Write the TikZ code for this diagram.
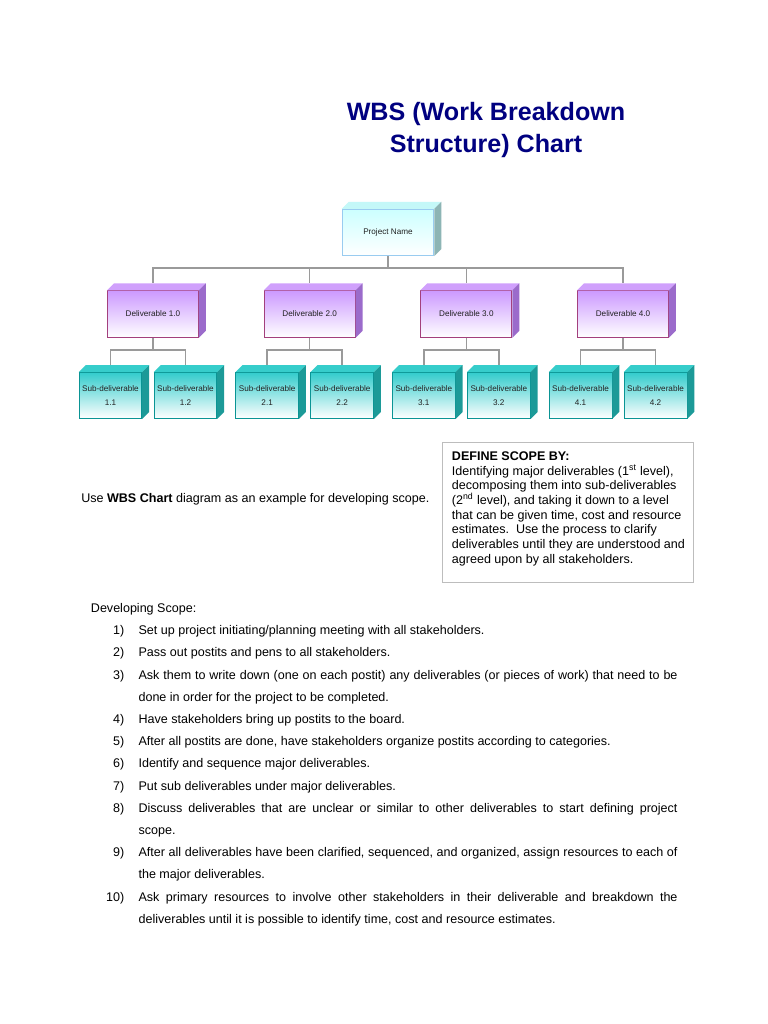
\documentclass[tikz,border=0pt]{standalone}
\usepackage{fontspec}
\setmainfont{Liberation Sans}

\newlength{\px}
\setlength{\px}{0.796875pt}

\definecolor{titleblue}{HTML}{000080}
\definecolor{boxtext}{HTML}{222222}
\definecolor{linegray}{HTML}{9A9A9A}
\definecolor{rootfill}{HTML}{CCFFFF}
\definecolor{roottop}{HTML}{C4F8F8}
\definecolor{rootside}{HTML}{8DB5B5}
\definecolor{rootborder}{HTML}{99CCF0}
\definecolor{delfill}{HTML}{CC99FF}
\definecolor{deltop}{HTML}{D0A0FC}
\definecolor{delside}{HTML}{9B6BCB}
\definecolor{delborder}{HTML}{A3407C}
\definecolor{subfill}{HTML}{33CCCC}
\definecolor{subtop}{HTML}{36CDCB}
\definecolor{subside}{HTML}{1C9A98}
\definecolor{subborder}{HTML}{0A9494}
\definecolor{scopegray}{HTML}{BDBDBD}

\newcommand{\boxfaces}[3]{%
	\fill[#2] (#1.north west) -- ++(7,7) -- ([shift={(7,7)}]#1.north east) -- (#1.north east) -- cycle;
	\fill[#3] (#1.north east) -- ([shift={(7,7)}]#1.north east) -- ([shift={(7,7)}]#1.south east) -- (#1.south east) -- cycle;
}
\newcommand{\jline}[1]{\makebox[539\px][s]{#1}}

\begin{document}
\begin{tikzpicture}[x=\px, y=\px,
	level distance=81.5\px,
	level 1/.style={sibling distance=156.7\px},
	level 2/.style={sibling distance=75\px},
	edge from parent/.style={draw=linegray, line width=1.6\px},
	edge from parent path={(\tikzparentnode.south) -- ++(0,-12) -| ([yshift=7\px]\tikzchildnode.north)},
	rootbox/.style={draw=rootborder, line width=0.8\px, top color=rootfill, bottom color=white,
		minimum width=91.7\px, minimum height=46.4\px, inner sep=0pt,
		font=\fontsize{6.5}{10.5}\selectfont, text=boxtext},
	delbox/.style={draw=delborder, line width=0.8\px, top color=delfill, bottom color=white,
		minimum width=91\px, minimum height=46.7\px, inner sep=0pt,
		font=\fontsize{6.5}{10.5}\selectfont, text=boxtext},
	subbox/.style={draw=subborder, line width=0.8\px, top color=subfill, bottom color=white,
		minimum width=62.7\px, minimum height=46\px, inner sep=0pt, align=center, xshift=-5\px,
		font=\fontsize{6.5}{10.5}\selectfont, text=boxtext},
	titletext/.style={anchor=base, font=\fontsize{20}{24}\selectfont\bfseries, text=titleblue},
	bodytext/.style={inner sep=0pt, font=\fontsize{10}{11.7}\selectfont, text=black},
	scopebox/.style={draw=scopegray, line width=1\px, inner sep=0pt}]
	
	\fill[white] (0,0) rectangle (768,-1024);
	\useasboundingbox (0,0) rectangle (768,-1024);
	
	\node[titletext] (Title1) at (486,-120.7) {WBS (Work Breakdown};
	\node[titletext] (Title2) at (486,-152.3) {Structure) Chart};
	
	\node[rootbox] (Root) at (388,-232.5) {Project Name}
	child {
		node[delbox] (D1) {Deliverable 1.0}
		child { node[subbox] (S11) {Sub-deliverable\\1.1} }
		child { node[subbox] (S12) {Sub-deliverable\\1.2} }
	}
	child {
		node[delbox] (D2) {Deliverable 2.0}
		child { node[subbox] (S21) {Sub-deliverable\\2.1} }
		child { node[subbox] (S22) {Sub-deliverable\\2.2} }
	}
	child {
		node[delbox] (D3) {Deliverable 3.0}
		child { node[subbox] (S31) {Sub-deliverable\\3.1} }
		child { node[subbox] (S32) {Sub-deliverable\\3.2} }
	}
	child {
		node[delbox] (D4) {Deliverable 4.0}
		child { node[subbox] (S41) {Sub-deliverable\\4.1} }
		child { node[subbox] (S42) {Sub-deliverable\\4.2} }
	};
	
	\boxfaces{Root}{roottop}{rootside}
	\foreach \d in {1,...,4} {
		\boxfaces{D\d}{deltop}{delside}
		\boxfaces{S\d1}{subtop}{subside}
		\boxfaces{S\d2}{subtop}{subside}
	}
	
	\node[bodytext, anchor=base west] (Use) at (81,-502) {Use \textbf{WBS Chart} diagram as an example for developing scope.};
	
	\node[scopebox, anchor=north west, minimum width=251\px, minimum height=139.4\px] (Scope) at (441.7,-442.3) {};
	\node[bodytext, anchor=north west, align=left] (ScopeText) at ([shift={(10,-9)}]Scope.north west) {\textbf{DEFINE SCOPE BY:}\\
		Identifying major deliverables (1\textsuperscript{st} level),\\
		decomposing them into sub-deliverables\\
		(2\textsuperscript{nd} level), and taking it down to a level\\
		that can be given time, cost and resource\\
		estimates.\ \ Use the process to clarify\\
		deliverables until they are understood and\\
		agreed upon by all stakeholders.};
	
	\node[bodytext, anchor=base west] (Dev) at (90.7,-612.5) {Developing Scope:};
	\foreach \txt [count=\k] in {
		{Set up project initiating/planning meeting with all stakeholders.},
		{Pass out postits and pens to all stakeholders.},
		{\jline{Ask them to write down (one on each postit) any deliverables (or pieces of work) that need to be}},
		{done in order for the project to be completed.},
		{Have stakeholders bring up postits to the board.},
		{After all postits are done, have stakeholders organize postits according to categories.},
		{Identify and sequence major deliverables.},
		{Put sub deliverables under major deliverables.},
		{\jline{Discuss deliverables that are unclear or similar to other deliverables to start defining project}},
		{scope.},
		{\jline{After all deliverables have been clarified, sequenced, and organized, assign resources to each of}},
		{the major deliverables.},
		{\jline{Ask primary resources to involve other stakeholders in their deliverable and breakdown the}},
		{deliverables until it is possible to identify time, cost and resource estimates.}}
		\node[bodytext, anchor=base west] (line\k) at (138.3,{-612.5-22.2*\k}) {\txt};
	\foreach \num/\k in {1/1,2/2,3/3,4/5,5/6,6/7,7/8,8/9,9/11,10/13}
		\node[bodytext, anchor=base east] (num\num) at (124.5,{-612.5-22.2*\k}) {\num)};
	
\end{tikzpicture}
\end{document}
